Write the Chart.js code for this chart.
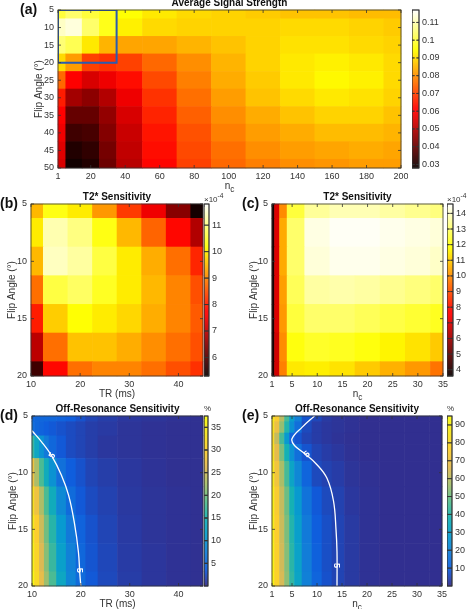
<!DOCTYPE html>
<html><head><meta charset="utf-8">
<script src="https://cdn.jsdelivr.net/npm/chart.js@4"></script>
<style>
body{margin:0;background:#fff;width:474px;height:609px;position:relative;overflow:hidden;font-family:"Liberation Sans",Arial,sans-serif;}
canvas{position:absolute;}
.t{position:absolute;font-weight:bold;font-size:10px;color:#111;text-align:center;white-space:nowrap;}
.p{position:absolute;font-weight:bold;font-size:14px;color:#111;}
.x{position:absolute;font-size:10px;color:#333;text-align:center;white-space:nowrap;}
.u{position:absolute;font-size:8px;color:#333;white-space:nowrap;}
</style></head><body>
<script>
// ---------- DATA ----------
// (a) Average signal strength
const aNc = [1,10,20,30,40,60,80,100,120,140,160,180,200];
const aFA = [5,10,15,20,25,30,35,40,45,50];
const aZ = [
[0.100,0.104,0.100,0.097,0.095,0.092,0.090,0.089,0.088,0.087,0.087,0.086,0.086],
[0.112,0.114,0.104,0.097,0.093,0.090,0.089,0.089,0.089,0.090,0.090,0.089,0.088],
[0.105,0.102,0.092,0.085,0.083,0.083,0.085,0.087,0.089,0.091,0.091,0.090,0.089],
[0.090,0.082,0.070,0.068,0.070,0.075,0.080,0.085,0.089,0.092,0.093,0.092,0.090],
[0.075,0.060,0.055,0.058,0.063,0.071,0.078,0.084,0.088,0.092,0.094,0.093,0.090],
[0.065,0.048,0.045,0.050,0.058,0.068,0.076,0.082,0.087,0.090,0.092,0.091,0.089],
[0.060,0.040,0.040,0.046,0.055,0.066,0.074,0.080,0.084,0.087,0.089,0.089,0.087],
[0.058,0.035,0.036,0.044,0.053,0.064,0.072,0.078,0.082,0.084,0.086,0.086,0.085],
[0.056,0.031,0.033,0.042,0.052,0.063,0.071,0.076,0.080,0.082,0.083,0.084,0.083],
[0.055,0.029,0.031,0.041,0.051,0.062,0.070,0.075,0.078,0.080,0.081,0.082,0.082]];
const aXTicks = [1,20,40,60,80,100,120,140,160,180,200];
const aYTicks = [5,10,15,20,25,30,35,40,45,50];
const aCTicks = [0.03,0.04,0.05,0.06,0.07,0.08,0.09,0.1,0.11];
const aBox = [1,35,5,20];
// (b) T2* sensitivity vs TR (x1e-4)
const bTR = [10,15,20,25,30,35,40,45];
const bFA = [5,7.5,10,12.5,15,17.5,20];
const bZ = [
[9.5,10.3,10.0,9.2,8.3,7.5,6.5,5.4],
[10.0,11.3,11.0,10.3,9.5,8.7,7.8,6.9],
[9.5,11.4,11.2,10.6,10.0,9.4,8.8,8.1],
[8.8,10.6,10.8,10.4,10.0,9.5,9.0,8.5],
[8.0,9.7,10.2,10.0,9.8,9.4,9.0,8.6],
[7.0,8.8,9.6,9.6,9.4,9.1,8.8,8.5],
[5.8,7.8,8.8,9.0,9.0,8.8,8.5,8.2]];
const bXTicks = [10,20,30,40];
const bCTicks = [6,7,8,9,10,11];
// (c) T2* sensitivity vs nc (x1e-4)
const cNc = [1,2,3,5,10,15,20,25,30,35];
const cFA = [5,7.5,10,12.5,15,17.5,20];
const cZ = [
[3.8,7.0,10.0,12.5,13.5,13.8,13.8,13.6,13.4,13.2],
[3.8,7.0,10.5,13.0,14.3,14.5,14.5,14.4,14.3,14.2],
[3.8,7.0,10.5,13.0,14.2,14.4,14.4,14.3,14.2,14.0],
[3.8,7.0,10.3,12.8,13.6,13.7,13.6,13.4,13.2,13.0],
[3.8,7.0,10.2,12.5,13.0,13.0,12.8,12.6,12.4,12.2],
[3.8,6.8,10.0,12.0,12.3,12.2,12.0,11.7,11.4,11.0],
[3.8,6.8,9.8,11.5,11.6,11.4,11.0,10.6,10.2,9.6]];
const ncXTicks = [1,5,10,15,20,25,30,35];
const cCTicks = [4,5,6,7,8,9,10,11,12,13,14];
const fa20YTicks = [5,10,15,20];
// (d) Off-resonance sensitivity vs TR (%)
const dTR = [10,11,12,13,14,16,18,20,22,25,30,35,40,45];
const dFA = [5,6,7.5,10,12.5,15,17.5,20];
const dZ = [
[5,5,5,5,5,4.5,4,3,2,1.5,1,0.8,0.6,0.5],
[6,5,4.5,4,3.5,3,2.5,2,1.5,1.2,0.8,0.6,0.5,0.5],
[17,13,10,7,5,3.5,2.5,2,1.5,1,0.8,0.6,0.5,0.5],
[28,23,18,14,10,6,4,3,2,1.5,1,0.7,0.5,0.5],
[33,28,23,18,14,9,5.5,3.5,2.5,1.8,1.1,0.8,0.6,0.5],
[35,30,25,20,16,11,7,4.5,3,2,1.2,0.8,0.6,0.5],
[36,31,26,21,17,12,8,5,3.2,2.2,1.3,0.9,0.6,0.5],
[37,32,27,22,18,13,8.5,5.5,3.5,2.3,1.4,0.9,0.6,0.5]];
const dCTicks = [5,10,15,20,25,30,35];
const dContour = [[10,6.3],[12,7.3],[14,8.5],[16,10.2],[17.5,12],[18.7,14.5],[19.5,17],[19.8,19],[20,20]];
const dLabels = [[14.2,8.5,-55],[19.7,18.6,90]];
// (e) Off-resonance sensitivity vs nc (%)
const eNc = [1,2,3,4,5,6,8,10,12,14,17,20,25,30,35];
const eFA = [5,6,7,8,10,12.5,15,17.5,20];
const eZ = [
[88,75,60,45,30,20,8,5.5,3,2,1.5,1,1,1,1],
[85,70,55,40,25,15,6,3.5,2.5,2,1.5,1,1,1,1],
[82,62,45,28,12,8,5,3.5,2.5,1.8,1.3,1,1,1,1],
[85,68,52,38,25,15,8,5,3.5,2.5,1.5,1,1,1,1],
[88,72,58,45,32,22,12,6,4.5,3.5,2,1.3,1,1,1],
[90,75,62,50,38,28,16,9,6,4.5,2.5,1.5,1,1,1],
[90,76,63,52,40,30,18,10,7,5,3,1.5,1,1,1],
[91,77,64,53,41,31,19,11,7,5,3,1.5,1,1,1],
[92,78,65,54,42,32,20,12,7.5,5,3,1.5,1,1,1]];
const eCTicks = [10,20,30,40,50,60,70,80,90];
const eContour = [[9.5,5],[7,6],[5,7],[5.5,7.6],[7.5,8.3],[10,9.3],[12,10.5],[13.3,12.5],[13.8,15],[14,17],[14,20]];
const eLabels = [[8,8.4,-40],[13.9,18.2,90]];

// ---------- colormaps ----------
const cl = v => Math.max(0, Math.min(1, v));
function hot(t){t=cl(t);const r=cl(0.04+t/0.375),g=cl((t-0.375)/0.375),b=cl((t-0.75)/0.25);
 return `rgb(${r*255|0},${g*255|0},${b*255|0})`;}
const PAR=[[53,42,135],[15,92,221],[18,125,216],[7,156,207],[21,177,180],[89,189,140],[165,190,107],[225,185,82],[252,206,46],[245,227,28],[249,251,14]];
function parula(t){t=cl(t)*10;const i=Math.min(9,Math.floor(t)),f=t-i,a=PAR[i],b=PAR[i+1];
 return `rgb(${a.map((v,k)=>Math.round(v+(b[k]-v)*f)).join(',')})`;}

// ---------- plugins ----------
function edges(arr,min,max){const e=[min];for(let i=1;i<arr.length;i++)e.push((arr[i-1]+arr[i])/2);e.push(max);return e;}
const heatPlugin={id:'heat',beforeDatasetsDraw(ch,a,o){
 if(!o.z)return;const xs=ch.scales.x,ys=ch.scales.y,ctx=ch.ctx;
 const ex=edges(o.xv,xs.min,xs.max),ey=edges(o.yv,ys.min,ys.max);
 ctx.save();
 for(let j=0;j<o.yv.length;j++)for(let i=0;i<o.xv.length;i++){
  const x0=xs.getPixelForValue(ex[i]),x1=xs.getPixelForValue(ex[i+1]);
  const y0=ys.getPixelForValue(ey[j]),y1=ys.getPixelForValue(ey[j+1]);
  ctx.fillStyle=o.cmap((o.z[j][i]-o.min)/(o.max-o.min));
  ctx.fillRect(Math.min(x0,x1)-0.3,Math.min(y0,y1)-0.3,Math.abs(x1-x0)+0.6,Math.abs(y1-y0)+0.6);
 }
 ctx.restore();},
 afterDatasetsDraw(ch,a,o){const ctx=ch.ctx,xs=ch.scales.x,ys=ch.scales.y,c=ch.chartArea;
  (o.labels||[]).forEach(l=>{const px=xs.getPixelForValue(l[0]),py=ys.getPixelForValue(l[1]);
   ctx.save();ctx.translate(px,py);ctx.rotate(l[2]*Math.PI/180);ctx.fillStyle='#fff';ctx.font='bold 9px "Liberation Sans"';
   ctx.textAlign='center';ctx.textBaseline='middle';ctx.fillText('5',0,0);ctx.restore();});
  ctx.save();
  ctx.strokeStyle='#333';ctx.lineWidth=0.8;ctx.strokeRect(c.left,c.top,c.right-c.left,c.bottom-c.top);
  ctx.beginPath();
  xs.ticks.forEach(t=>{const p=xs.getPixelForValue(t.value);ctx.moveTo(p,c.bottom);ctx.lineTo(p,c.bottom-3);ctx.moveTo(p,c.top);ctx.lineTo(p,c.top+3);});
  ys.ticks.forEach(t=>{const p=ys.getPixelForValue(t.value);ctx.moveTo(c.left,p);ctx.lineTo(c.left+3,p);ctx.moveTo(c.right,p);ctx.lineTo(c.right-3,p);});
  ctx.stroke();ctx.restore();}};
const barPlugin={id:'cbar',beforeDraw(ch,a,o){if(!o.cmap)return;const c=ch.chartArea,ctx=ch.ctx,ys=ch.scales.y;
 ctx.save();
 for(let p=c.top;p<c.bottom;p+=0.5){const v=ys.getValueForPixel(p);ctx.fillStyle=o.cmap((v-ys.min)/(ys.max-ys.min));ctx.fillRect(c.left,p,c.right-c.left,0.8);}
 ctx.strokeStyle='#333';ctx.lineWidth=0.8;ctx.strokeRect(c.left,c.top,c.right-c.left,c.bottom-c.top);
 ctx.beginPath();ys.ticks.forEach(t=>{const p=ys.getPixelForValue(t.value);ctx.moveTo(c.right,p);ctx.lineTo(c.right-2,p);ctx.moveTo(c.left,p);ctx.lineTo(c.left+2,p);});ctx.stroke();ctx.restore();}};
Chart.register(heatPlugin,barPlugin);

const FONT={family:'"Liberation Sans",Arial,sans-serif',size:9};
const GRID={display:false,drawTicks:false,tickLength:0};
function fixScale(w,h){return s=>{if(w!=null)s.width=w;if(h!=null)s.height=h;s.paddingTop=s.paddingBottom=s.paddingLeft=s.paddingRight=0;};}
function setTicks(vals){return s=>{s.ticks=vals.map(v=>({value:v}));};}
function canvas(l,t,w,h){const c=document.createElement('canvas');c.style.left=l+'px';c.style.top=t+'px';c.style.width=w+'px';c.style.height=h+'px';c.width=w;c.height=h;document.body.appendChild(c);return c;}
function div(cls,html,l,t,w){const d=document.createElement('div');d.className=cls;d.innerHTML=html;d.style.left=l+'px';d.style.top=t+'px';if(w)d.style.width=w+'px';document.body.appendChild(d);}

function panel(P){
 const axW=P.axW,pad=7,xh=14;
 const cv=canvas(P.L-axW,P.T-pad,P.R-P.L+axW+pad,P.B-P.T+pad+xh);
 const pts=[];P.yv.forEach((y,j)=>P.xv.forEach((x,i)=>pts.push({x,y,v:P.z[j][i]})));
 const ds=[{data:pts,pointRadius:0,showLine:false}];
 if(P.contour)ds.push({data:P.contour.map(p=>({x:p[0],y:p[1]})),showLine:true,borderColor:'#fff',borderWidth:1.3,pointRadius:0,tension:0.4});
 if(P.box){const b=P.box;ds.push({data:[{x:b[0],y:b[2]},{x:b[1],y:b[2]},{x:b[1],y:b[3]},{x:b[0],y:b[3]},{x:b[0],y:b[2]}],showLine:true,borderColor:'#2a5cb0',borderWidth:2,pointRadius:0});}
 new Chart(cv,{type:'scatter',data:{datasets:ds},options:{animation:false,responsive:false,events:[],
  layout:{padding:{top:pad,right:pad,left:0,bottom:0}},
  plugins:{legend:{display:false},tooltip:{enabled:false},heat:{xv:P.xv,yv:P.yv,z:P.z,cmap:P.cmap,min:P.cmin,max:P.cmax,labels:P.labels}},
  scales:{
   x:{type:'linear',min:P.xmin,max:P.xmax,grid:GRID,border:{display:false},afterFit:fixScale(null,xh),afterBuildTicks:setTicks(P.xt),
      ticks:{font:FONT,color:'#333',padding:3,maxRotation:0,autoSkip:false,callback:v=>String(v)}},
   y:{type:'linear',reverse:true,min:P.ymin,max:P.ymax,grid:GRID,border:{display:false},afterFit:fixScale(axW,null),afterBuildTicks:setTicks(P.yt),
      title:{display:true,text:'Flip Angle (°)',font:{family:FONT.family,size:10},color:'#333',padding:0},
      ticks:{font:FONT,color:'#333',padding:4,autoSkip:false,callback:v=>String(v)}}}}});
 // colorbar
 const cw=P.cbR-P.cbL,lw=28;
 const cb=canvas(P.cbL,P.T-pad,cw+lw,P.B-P.T+2*pad);
 new Chart(cb,{type:'scatter',data:{datasets:[{data:[],pointRadius:0}]},options:{animation:false,responsive:false,events:[],
  layout:{padding:{top:pad,bottom:pad,left:0,right:0}},
  plugins:{legend:{display:false},tooltip:{enabled:false},cbar:{cmap:P.cmap}},
  scales:{x:{display:false,min:0,max:1},
   y:{position:'right',min:P.cmin,max:P.cmax,grid:GRID,border:{display:false},afterFit:fixScale(lw,null),afterBuildTicks:setTicks(P.ct),
      ticks:{font:FONT,color:'#333',padding:3,autoSkip:false,callback:v=>String(v)}}}}});
 div('t',P.title,P.L,P.T-13,P.R-P.L);
 div('p',P.tag,P.tagX,P.T-9);
 div('x',P.xlabel,P.L,P.B+12,P.R-P.L);
 if(P.unit)div('u',P.unit,P.cbL,P.T-12);
}

panel({L:58,R:401,T:10,B:168,axW:25,cbL:412,cbR:419,xv:aNc,yv:aFA,z:aZ,cmap:hot,cmin:0.028,cmax:0.117,xmin:1,xmax:200,ymin:5,ymax:50,
 xt:aXTicks,yt:aYTicks,ct:aCTicks,box:aBox,title:'Average Signal Strength',tag:'(a)',tagX:20,xlabel:'n<sub>c</sub>'});
panel({L:31,R:203,T:204,B:376,axW:25,cbL:204,cbR:209,xv:bTR,yv:bFA,z:bZ,cmap:hot,cmin:5.3,cmax:11.8,xmin:10,xmax:45,ymin:5,ymax:20,
 xt:bXTicks,yt:fa20YTicks,ct:bCTicks,title:'T2* Sensitivity',tag:'(b)',tagX:0,xlabel:'TR (ms)',unit:'×10<sup>-4</sup>'});
panel({L:272,R:443,T:204,B:376,axW:24,cbL:447,cbR:453,xv:cNc,yv:cFA,z:cZ,cmap:hot,cmin:3.6,cmax:14.6,xmin:1,xmax:35,ymin:5,ymax:20,
 xt:ncXTicks,yt:fa20YTicks,ct:cCTicks,title:'T2* Sensitivity',tag:'(c)',tagX:242,xlabel:'n<sub>c</sub>',unit:'×10<sup>-4</sup>'});
panel({L:32,R:203,T:416,B:586,axW:25,cbL:204,cbR:208,xv:dTR,yv:dFA,z:dZ,cmap:parula,cmin:0,cmax:37.5,xmin:10,xmax:45,ymin:5,ymax:20,
 xt:bXTicks,yt:fa20YTicks,ct:dCTicks,contour:dContour,labels:dLabels,title:'Off-Resonance Sensitivity',tag:'(d)',tagX:0,xlabel:'TR (ms)',unit:'%'});
panel({L:272,R:442,T:416,B:586,axW:24,cbL:447,cbR:452,xv:eNc,yv:eFA,z:eZ,cmap:parula,cmin:0,cmax:95,xmin:1,xmax:35,ymin:5,ymax:20,
 xt:ncXTicks,yt:fa20YTicks,ct:eCTicks,contour:eContour,labels:eLabels,title:'Off-Resonance Sensitivity',tag:'(e)',tagX:242,xlabel:'n<sub>c</sub>',unit:'%'});
</script>
</body></html>
